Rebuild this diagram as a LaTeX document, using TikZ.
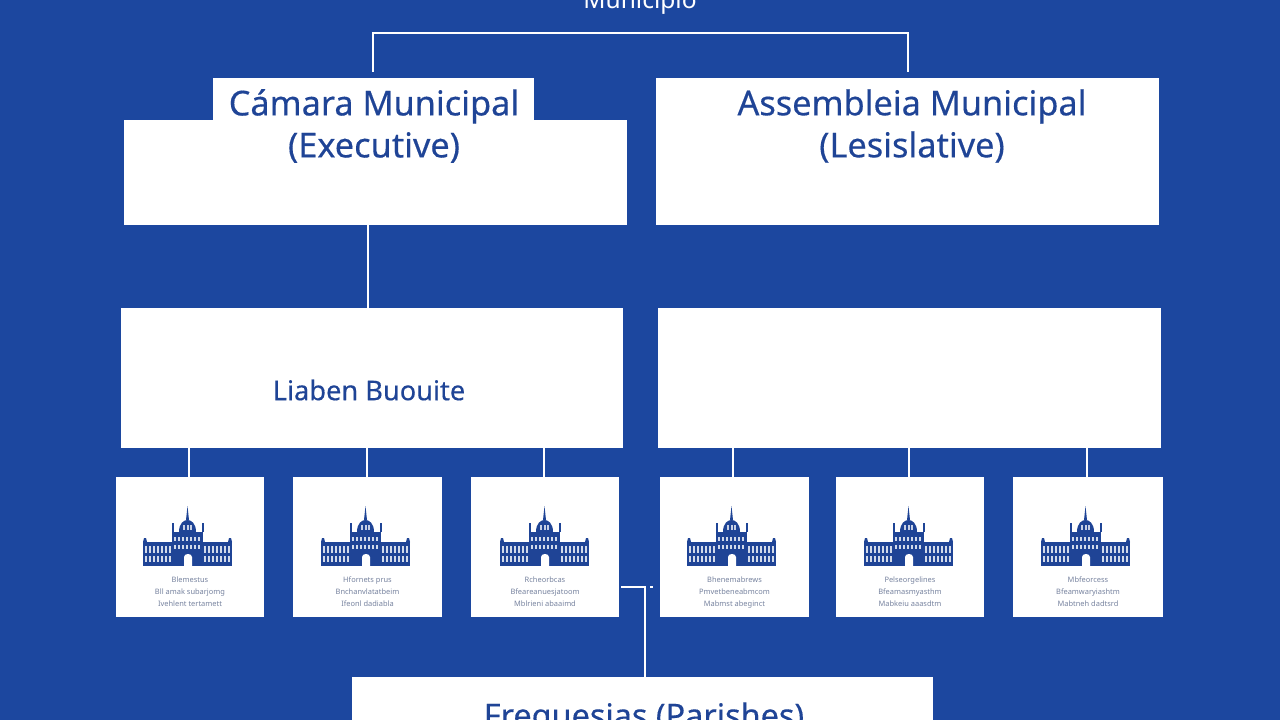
\documentclass[tikz,border=0pt]{standalone}
\usepackage{fontspec}
\setmainfont{Noto Sans}
\newfontfamily\heavier[FakeBold=0.35]{Noto Sans}
\definecolor{bgblue}{HTML}{1C479F}
\definecolor{inkblue}{HTML}{1F4496}
\definecolor{smallink}{HTML}{77839F}
\tikzset{
  x=0.75pt,y=-0.75pt,
  panel/.style={fill=white,draw=none,inner sep=0pt,outer sep=0pt,anchor=north west},
  wire/.style={draw=white,line width=1.5pt},
  title/.style={text=inkblue,font=\heavier\fontsize{25.7}{31.5}\selectfont,align=center,inner sep=0pt},
  tiny/.style={text=smallink,font=\fontsize{5.6}{9.3}\selectfont,align=center,inner sep=0pt},
  pics/civic/.style={code={
    % wings and base
    \fill[inkblue] (0,0) rectangle (89,-24);
    \fill[inkblue] (0,-24) -- (1,-28) -- (3,-28) -- (4,-24) -- cycle;
    \fill[inkblue] (85,-24) -- (86,-28) -- (88,-28) -- (89,-24) -- cycle;
    % central block, turrets, dome, spire
    \fill[inkblue] (29,-24) rectangle (60,-34);
    \fill[inkblue] (28.5,-34) rectangle (30.5,-43);
    \fill[inkblue] (58.5,-34) rectangle (60.5,-43);
    \fill[inkblue] (36,-34) .. controls (36,-43) and (41,-46) .. (44.5,-46) .. controls (48,-46) and (53,-43) .. (53,-34) -- cycle;
    \fill[inkblue] (43,-46) -- (44.5,-60) -- (46,-46) -- cycle;
    % wing windows
    \foreach \c in {3,7,11,15,19,23,27,62,66,70,74,78,82,86}{
      \fill[white!80!inkblue] (\c-1,-4) rectangle (\c+1,-10);
      \fill[white!80!inkblue] (\c-1,-13) rectangle (\c+1,-20);
    }
    % central windows
    \foreach \c in {32,36,40,44,48,52,56}{
      \fill[white!80!inkblue] (\c-1,-17) rectangle (\c+1,-21);
      \fill[white!80!inkblue] (\c-1,-25) rectangle (\c+1,-29);
    }
    \foreach \c in {41,44.5,48}{
      \fill[white!75!inkblue] (\c-1,-36) rectangle (\c+1,-41);
    }
    % door
    \fill[white] (41,0) -- (41,-9) .. controls (41,-13) and (49,-13) .. (49,-9) -- (49,0) -- cycle;
  }}
}
\begin{document}
\begin{tikzpicture}
\useasboundingbox (0,0) rectangle (1280,720);
\clip (0,0) rectangle (1280,720);
\fill[bgblue] (0,0) rectangle (1280,720);

% top label
\node[text=white,font=\fontsize{18.4}{22}\selectfont,inner sep=0pt,anchor=base] (muni) at (640,9) {Município};

% upper panels
\node[panel,minimum width=321*0.75pt,minimum height=47*0.75pt] (camtab) at (213,78) {};
\node[panel,minimum width=503*0.75pt,minimum height=105*0.75pt] (cam) at (124,120) {};
\node[panel,minimum width=503*0.75pt,minimum height=147*0.75pt] (ass) at (656,78) {};
\node[title] (camt) at (374,126) {Cámara Municipal\\(Executive)};
\node[title] (asst) at (912,126) {Assembleia Municipal\\(Lesislative)};

% middle panels
\node[panel,minimum width=502*0.75pt,minimum height=140*0.75pt] (lib) at (121,308) {};
\node[panel,minimum width=503*0.75pt,minimum height=140*0.75pt] (emp) at (658,308) {};
\node[text=inkblue,font=\heavier\fontsize{20.4}{24}\selectfont,inner sep=0pt] (libt) at (369,390) {Liaben Buouite};

% bottom panel
\node[panel,minimum width=581*0.75pt,minimum height=60*0.75pt] (freg) at (352,677) {};
\node[text=inkblue,font=\heavier\fontsize{24.3}{30}\selectfont,inner sep=0pt,anchor=base] (fregt) at (644,727) {Frequesias (Parishes)};

% connectors
\coordinate (ca) at (373,72);
\coordinate (ja) at (373,33);
\coordinate (jb) at (908,33);
\coordinate (cb) at (908,72);
\draw[wire] (ca) -- (ja) -- (jb) -- (cb);
\coordinate (cx) at (368,225);
\draw[wire] (cx) -- (cx |- lib.north);

% small cards
\foreach \nm/\x/\w/\bx/\wx/\la/\lb/\lc in {
 a/116/148/143/189/Blemestus/Bll amak subarjomg/Ivehlent tertamett,
 b/293/149/321/367/Hfornets prus/Bnchanvlatatbeim/Ifeonl dadiabla,
 c/471/148/500/544/Rcheorbcas/Bfeareanuesjatoom/Mblrieni abaaimd,
 d/660/149/687/733/Bhenemabrews/Pmvetbeneabmcom/Mabmst abeginct,
 e/836/148/864/909/Pelseorgelines/Bfeamasmyasthm/Mabkeiu aaasdtm,
 f/1013/150/1041/1087/Mbfeorcess/Bfeamwaryiashtm/Mabtneh dadtsrd}{
  \node[panel,minimum width=\w*0.75pt,minimum height=140*0.75pt] (card\nm) at (\x,477) {};
  \pic at (\bx,566) {civic};
  \node[tiny] (lab\nm) at (\x+\w/2,592) {\strut\la\\\strut\lb\\\strut\lc};
  \coordinate (top\nm) at (\wx,477);
}

% connectors from the middle panels to the cards
\foreach \nm in {a,b,c}{\draw[wire] (top\nm) -- (top\nm |- lib.south);}
\foreach \nm in {d,e,f}{\draw[wire] (top\nm) -- (top\nm |- emp.south);}

% connector to the parishes
\coordinate (fj) at (645,587);
\coordinate (fl) at (621,587);
\draw[wire] (fj |- freg.north) -- (fj) -- (fl);
\coordinate (fd) at (650,587);
\coordinate (fe) at (653,587);
\draw[wire] (fd) -- (fe);
\end{tikzpicture}
\end{document}
